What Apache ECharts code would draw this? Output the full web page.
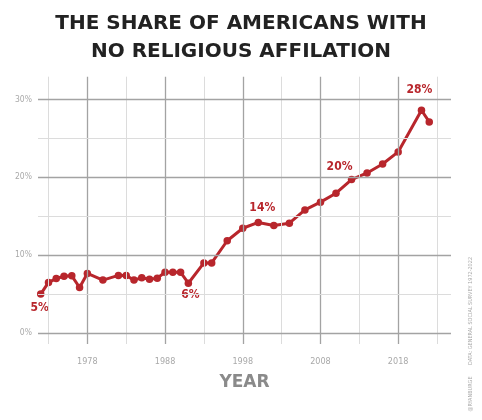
<!DOCTYPE html>
<html>
<head>
<meta charset="utf-8">
<script src="https://cdn.jsdelivr.net/npm/echarts@6/dist/echarts.min.js"></script>
<style>
html,body{margin:0;padding:0;background:#fff;}
#c{width:482px;height:420px;}
</style>
</head>
<body>
<div id="c"></div>
<script>
// ---- data ----
var years = [1972,1973,1974,1975,1976,1977,1978,1980,1982,1983,1984,1985,1986,1987,1988,1989,1990,1991,1993,1994,1996,1998,2000,2002,2004,2006,2008,2010,2012,2014,2016,2018,2021,2022];
var shares = [5.0,6.5,7.0,7.3,7.35,5.85,7.65,6.8,7.4,7.4,6.8,7.1,6.9,7.05,7.8,7.8,7.8,6.4,9.0,9.0,11.85,13.45,14.2,13.8,14.1,15.8,16.8,17.95,19.7,20.55,21.7,23.25,28.6,27.1];
var annotYears = [1972,1991,2000,2012,2021];
var annotTexts = ['5%','6%','14%','20%','28%'];
var xTickLabels = [1978,1988,1998,2008,2018];
var xMinorLines = [1973,1983,1993,2003,2013,2023];
var yTickLabels = [0,10,20,30];
var yMinorLines = [5,15,25];

// ---- styles ----
var RED = '#b8262c';
var COND = '"DejaVu Sans Condensed","Liberation Sans Narrow",sans-serif';
var annotStyle = {
  1972:{position:'bottom',distance:5,offset:[-1,-1]},
  1991:{position:'bottom',distance:3,offset:[2,-1]},
  2000:{position:'top',distance:5,offset:[4,0]},
  2012:{position:'top',distance:3,offset:[-12,0]},
  2021:{position:'top',distance:11,offset:[-2,0]}
};

var seriesData = years.map(function(y,i){
  var idx = annotYears.indexOf(y);
  var item = {value:[y, shares[i]]};
  if (idx >= 0) {
    var s = annotStyle[y];
    item.label = {
      show:true, formatter: annotTexts[idx], position:s.position, distance:s.distance, offset:s.offset,
      color:RED, fontSize:12, fontWeight:'bold', fontFamily:COND
    };
  }
  return item;
});

var majorLine = {color:'#a3a3a3', width:1.3, type:'solid'};
var minorLine = {color:'#dcdcdc', width:1, type:'solid'};
var gridLines = [];
xTickLabels.forEach(function(v){ gridLines.push({xAxis:v, lineStyle:majorLine}); });
xMinorLines.forEach(function(v){ gridLines.push({xAxis:v, lineStyle:minorLine}); });
yTickLabels.forEach(function(v){ gridLines.push({yAxis:v, lineStyle:majorLine}); });
yMinorLines.forEach(function(v){ gridLines.push({yAxis:v, lineStyle:minorLine}); });

var chart = echarts.init(document.getElementById('c'), null, {renderer:'canvas'});
chart.setOption({
  backgroundColor:'#fff',
  animation:false,
  title:{
    text:'THE SHARE OF AMERICANS WITH\nNO RELIGIOUS AFFILATION',
    left:'center', top:5,
    textStyle:{fontFamily:'"DejaVu Sans",sans-serif', fontWeight:'bold', fontSize:20, color:'#222', lineHeight:28}
  },
  grid:{left:38, right:31, top:76.7, bottom:76, containLabel:false},
  xAxis:{
    type:'value', min:1971.65, max:2024.8,
    axisLine:{show:false}, axisTick:{show:false}, splitLine:{show:false},
    axisLabel:{customValues:xTickLabels, color:'#a9a9a9', fontSize:9, fontFamily:COND, margin:13, formatter:function(v){return String(v);}},
    name:'YEAR', nameLocation:'middle', nameGap:30,
    nameTextStyle:{fontFamily:'"DejaVu Sans",sans-serif', fontWeight:'bold', fontSize:17, color:'#8a8a8a'}
  },
  yAxis:{
    type:'value', min:-1.4, max:32.9,
    axisLine:{show:false}, axisTick:{show:false}, splitLine:{show:false},
    axisLabel:{customValues:yTickLabels, color:'#a9a9a9', fontSize:8.5, fontFamily:COND, margin:6, formatter:'{value}%'}
  },
  graphic:[
    {type:'text', x:471, y:311, rotation:Math.PI/2, style:{text:'DATA: GENERAL SOCIAL SURVEY 1972-2022', fill:'#aaaaaa', font:'5.5px '+COND, align:'center', verticalAlign:'middle'}},
    {type:'text', x:471, y:394, rotation:Math.PI/2, style:{text:'@RYANBURGE', fill:'#aaaaaa', font:'5.5px '+COND, align:'center', verticalAlign:'middle'}}
  ],
  series:[
    {
      type:'line', data:[], z:1, silent:true,
      markLine:{silent:true, symbol:['none','none'], label:{show:false}, animation:false, data:gridLines}
    },
    {
      type:'line', z:3, data:seriesData,
      symbol:'circle', symbolSize:7.5,
      lineStyle:{color:RED, width:3},
      itemStyle:{color:RED},
      label:{show:false}
    }
  ]
});
</script>
</body>
</html>
